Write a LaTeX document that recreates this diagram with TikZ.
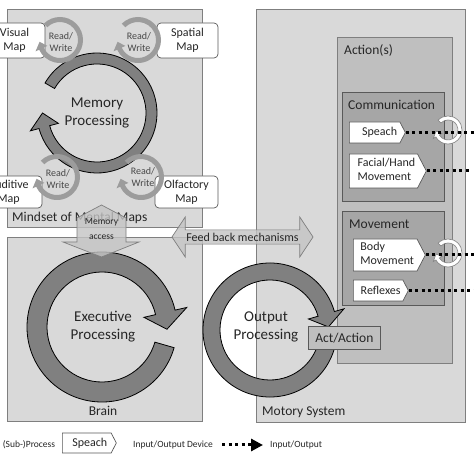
\documentclass[tikz,border=0pt]{standalone}
\usepackage{fontspec}
\setmainfont{Carlito}
\usetikzlibrary{shapes.symbols,shapes.arrows,arrows.meta}
\definecolor{boxbg}{HTML}{D9D9D9}
\definecolor{actbg}{HTML}{BFBFBF}
\definecolor{subbg}{HTML}{A6A6A6}
\definecolor{edgec}{HTML}{7F7F7F}
\definecolor{darkedge}{HTML}{595959}
\definecolor{ringfill}{HTML}{808080}
\definecolor{rwfill}{HTML}{9C9C9C}
\definecolor{txt}{HTML}{262626}
\definecolor{arrfill}{HTML}{C4C4C4}
\newcommand{\myfBig}{\fontsize{15}{18}\selectfont}
\newcommand{\myfMid}{\fontsize{13.5}{16}\selectfont}
\newcommand{\myfNorm}{\fontsize{12}{14}\selectfont}
\newcommand{\myfSmall}{\fontsize{10}{12}\selectfont}
\newcommand{\myfTiny}{\fontsize{9.5}{15}\selectfont}
\newcommand{\ringarrow}[8]{%
 \path[#1, shift={#2}] (#5:#4) arc[start angle=#5, end angle=#6, radius=#4]
   -- (#6:{#4+#8}) -- ({#6-#7}:{(#3+#4)/2}) -- (#6:{#3-#8}) -- (#6:#3)
   arc[start angle=#6, end angle=#5, radius=#3] -- cycle;}
\tikzset{
 bigbox/.style={draw=edgec, fill=boxbg, line width=0.8pt, inner sep=0pt, anchor=south west},
 actbox/.style={draw=edgec, fill=actbg, line width=0.8pt, inner sep=0pt, anchor=south west},
 subbox/.style={draw=darkedge, fill=subbg, line width=0.8pt, inner sep=0pt, anchor=south west},
 lbl/.style={text=txt, inner sep=0pt},
 mapbox/.style={draw=darkedge, fill=white, rounded corners=4pt, line width=0.7pt, text=txt, font=\myfNorm, align=center, inner sep=0pt},
 devbox/.style={signal, signal to=east, signal pointer angle=125, draw=darkedge, fill=white, line width=0.7pt, text=txt, font=\myfNorm, align=left, inner sep=0pt, anchor=west},
 bigring/.style={fill=ringfill, draw=black, line width=0.8pt},
 rwring/.style={fill=rwfill},
 whitering/.style={fill=white, draw=edgec, line width=0.6pt},
 iolink/.style={line width=3pt, dash pattern=on 3pt off 3.5pt, black},
 bigarrow/.style={fill=arrfill, fill opacity=0.8, draw=edgec, line width=0.7pt, text opacity=1},
}
\begin{document}
\begin{tikzpicture}[x=1pt,y=1pt]
\useasboundingbox (0,0) rectangle (474,474);
\fill[white] (0,0) rectangle (474,474);
% main containers
\node[bigbox, minimum width=195, minimum height=218] (mindset) at (7,246) {};
\node[bigbox, minimum width=195, minimum height=184] (brain) at (7,52) {};
\node[bigbox, minimum width=209, minimum height=413] (motory) at (256,51) {};
\node[actbox, minimum width=115, minimum height=326] (actions) at (337,110) {};
\node[subbox, minimum width=102, minimum height=109] (comm) at (342,272) {};
\node[subbox, minimum width=102, minimum height=94] (move) at (342,168) {};
% container labels
\node[lbl, anchor=west, font=\myfMid] (mindsetlbl) at (12,256) {Mindset of Mental Maps};
\node[lbl, font=\myfMid] (brainlbl) at (103,63) {Brain};
\node[lbl, anchor=west, font=\myfMid] (motorylbl) at (262,62) {Motory System};
\node[lbl, anchor=west, font=\myfMid] (actionslbl) at (344,423) {Action(s)};
\node[lbl, anchor=west, font=\myfMid] (commlbl) at (348,369) {Communication};
\node[lbl, anchor=west, font=\myfMid] (movelbl) at (349,250) {Movement};
% big processing rings
\ringarrow{bigring}{(102,147)}{55}{75}{-16}{-347}{15}{12}
\ringarrow{bigring}{(270,144)}{50}{67}{-12}{-344}{13}{10}
\ringarrow{bigring}{(97,361)}{49}{60}{150}{-165}{15}{9}
\node[lbl, font=\myfBig, align=center] (exec) at (103,147) {Executive\\Processing};
\node[lbl, font=\myfBig, align=center] (output) at (266,147) {Output\\Processing};
\node[lbl, font=\myfBig, align=center] (memproc) at (97,361) {Memory\\Processing};
\node[draw=darkedge, fill=actbg, line width=0.7pt, minimum width=72, minimum height=23, inner sep=0pt, anchor=south west, font=\myfMid, text=txt] (act) at (308,124) {Act/Action};
% mental maps
\node[mapbox, minimum width=61, minimum height=35] (visual) at (14.5,433.5) {Visual\\Map};
\node[mapbox, minimum width=61, minimum height=35] (spatial) at (187.5,433.5) {Spatial\\Map};
\node[mapbox, minimum width=67, minimum height=32] (auditive) at (8.5,282) {Auditive\\Map};
\node[mapbox, minimum width=63, minimum height=32] (olfactory) at (186.5,282) {Olfactory\\Map};
% read/write rings
\ringarrow{rwring}{(60,434)}{18}{23}{135}{-155}{20}{4}
\ringarrow{rwring}{(138,434)}{18}{23}{135}{-155}{20}{4}
\ringarrow{rwring}{(57,297)}{18}{23}{135}{-155}{20}{4}
\ringarrow{rwring}{(141,297)}{18}{23}{135}{-155}{20}{4}
\node[lbl, font=\myfSmall, align=center, text=darkedge!80!black] (rw1) at (61,432) {Read/\\Write};
\node[lbl, font=\myfSmall, align=center, text=darkedge!80!black] (rw2) at (139,432) {Read/\\Write};
\node[lbl, font=\myfSmall, align=center, text=darkedge!80!black] (rw3) at (58,295) {Read/\\Write};
\node[lbl, font=\myfSmall, align=center, text=darkedge!80!black] (rw4) at (143,297) {Read/\\Write};
% memory access & feedback arrows
\path[bigarrow] (101.5,269) -- (126,256) -- (126,232) -- (139,232) -- (101.5,217) -- (63,232) -- (77,232) -- (77,256) -- cycle;
\node[lbl, font=\myfTiny, align=center] (memacc) at (101.5,245) {Memory\\access};
\node[double arrow, bigarrow, minimum height=141, minimum width=40, inner sep=1pt,
      double arrow head extend=10, double arrow tip angle=113, font=\myfNorm, text=txt] (feedback) at (242.5,237) {Feed back mechanisms};
% devices
\node[devbox, minimum width=56, minimum height=21] (speach) at (349,341.5) {\hspace*{10pt}Speach};
\node[devbox, minimum width=77, minimum height=34] (facial) at (349,303) {\hspace*{6pt}\begin{tabular}{@{}l@{}}Facial/Hand\\Movement\end{tabular}};
\node[devbox, minimum width=72, minimum height=32] (body) at (353,219) {\hspace*{4pt}\begin{tabular}{@{}l@{}}Body\\Movement\end{tabular}};
\node[devbox, minimum width=55, minimum height=21] (reflex) at (353,183.5) {\hspace*{5pt}Reflexes};
\coordinate (o1) at (474,341.5);
\coordinate (o2) at (471,303);
\coordinate (o3) at (474,219);
\coordinate (o4) at (474,183.5);
\ringarrow{whitering}{(448,344)}{10}{14}{135}{-150}{25}{3}
\ringarrow{whitering}{(448,221)}{10}{14}{135}{-150}{25}{3}
\draw[iolink] (speach.east) -- (o1);
\draw[iolink] (facial.east) -- (o2);
\draw[iolink] (body.east) -- (o3);
\draw[iolink] (reflex.east) -- (o4);
% legend
\node[lbl, font=\myfTiny] (legproc) at (29,29) {(Sub-)Process};
\node[devbox, minimum width=54, minimum height=20, font=\myfNorm] (legdev) at (62,31) {\hspace*{6pt}Speach};
\node[lbl, font=\myfTiny] (legdevlbl) at (173,29) {Input/Output Device};
\coordinate (la) at (222,29);
\coordinate (lb) at (263,29);
\draw[iolink, -{Triangle[length=12pt,width=12pt]}] (la) -- (lb);
\node[lbl, font=\myfTiny, anchor=west] (legio) at (270,29) {Input/Output};
\end{tikzpicture}
\end{document}
